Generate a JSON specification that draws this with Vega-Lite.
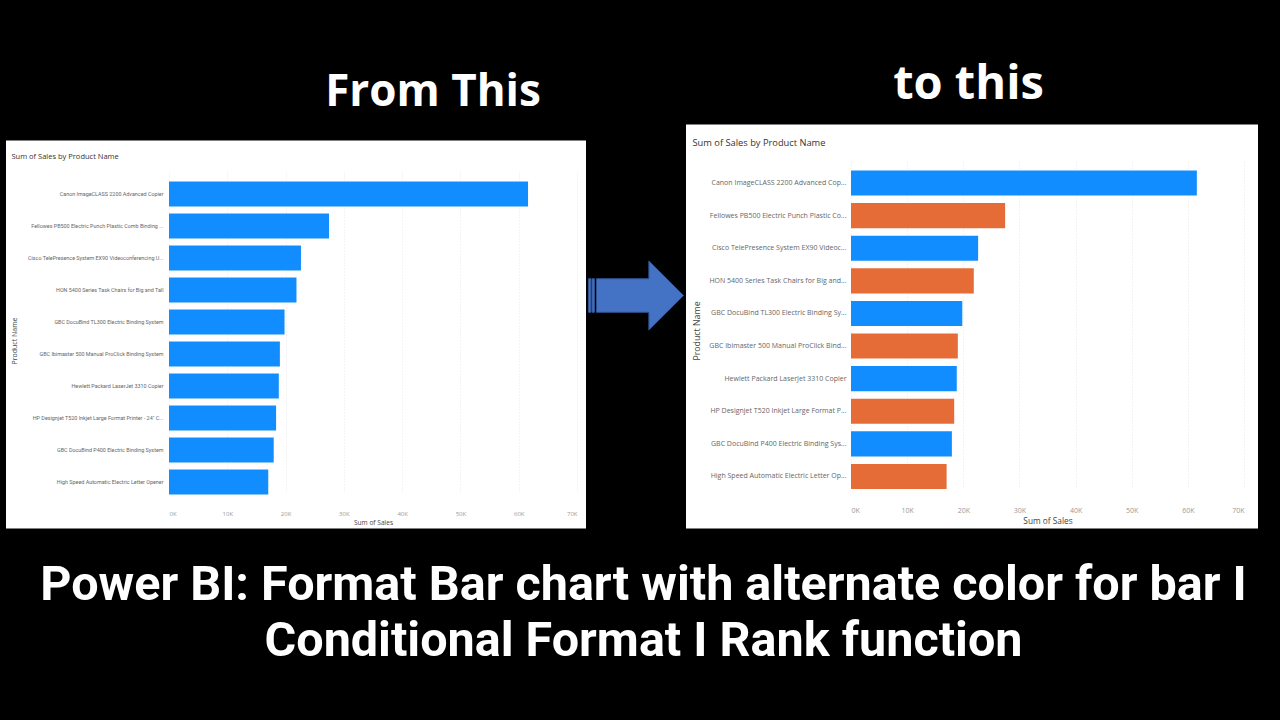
{
  "$schema": "https://vega.github.io/schema/vega-lite/v6.json",
  "background": "black",
  "padding": {"left": 6, "top": 60.5, "right": 23, "bottom": 56.5},
  "config": {
    "view": {"stroke": null},
    "axis": {"domain": false, "ticks": false, "titleFontWeight": "normal"},
    "font": "Open Sans"
  },
  "title": {
    "text": ["Power BI: Format Bar chart with alternate color for bar I", "Conditional Format I Rank function"],
    "orient": "bottom", "anchor": "middle", "dx": 11.5, "offset": 71, "baseline": "alphabetic",
    "font": "Roboto", "fontSize": 48.5, "fontWeight": "bold", "color": "white", "lineHeight": 56
  },
  "datasets": {
    "sales": [
      {"name_l": "Canon ImageCLASS 2200 Advanced Copier", "name_r": "Canon ImageCLASS 2200 Advanced Cop...", "sales": 61599.82, "rank_parity": "odd"},
      {"name_l": "Fellowes PB500 Electric Punch Plastic Comb Binding ...", "name_r": "Fellowes PB500 Electric Punch Plastic Co...", "sales": 27453.38, "rank_parity": "even"},
      {"name_l": "Cisco TelePresence System EX90 Videoconferencing U...", "name_r": "Cisco TelePresence System EX90 Videoc...", "sales": 22638.48, "rank_parity": "odd"},
      {"name_l": "HON 5400 Series Task Chairs for Big and Tall", "name_r": "HON 5400 Series Task Chairs for Big and...", "sales": 21870.58, "rank_parity": "even"},
      {"name_l": "GBC DocuBind TL300 Electric Binding System", "name_r": "GBC DocuBind TL300 Electric Binding Sy...", "sales": 19823.48, "rank_parity": "odd"},
      {"name_l": "GBC Ibimaster 500 Manual ProClick Binding System", "name_r": "GBC Ibimaster 500 Manual ProClick Bind...", "sales": 19024.5, "rank_parity": "even"},
      {"name_l": "Hewlett Packard LaserJet 3310 Copier", "name_r": "Hewlett Packard LaserJet 3310 Copier", "sales": 18839.69, "rank_parity": "odd"},
      {"name_l": "HP Designjet T520 Inkjet Large Format Printer - 24\" C...", "name_r": "HP Designjet T520 Inkjet Large Format P...", "sales": 18374.9, "rank_parity": "even"},
      {"name_l": "GBC DocuBind P400 Electric Binding System", "name_r": "GBC DocuBind P400 Electric Binding Sys...", "sales": 17965.07, "rank_parity": "odd"},
      {"name_l": "High Speed Automatic Electric Letter Opener", "name_r": "High Speed Automatic Electric Letter Op...", "sales": 17030.31, "rank_parity": "even"}
    ]
  },
  "spacing": 0,
  "hconcat": [
    {
      "vconcat": [
        {
          "width": 580, "height": 1,
          "view": {"fill": null, "stroke": null},
          "data": {"values": [{"k": 0}]},
          "mark": {"type": "text", "text": ""},
          "encoding": {}
        },
        {
          "title": {"text": "From This", "anchor": "middle", "frame": "group", "dx": 137, "offset": -9, "baseline": "alphabetic", "font": "Open Sans", "fontSize": 44, "fontWeight": "bold", "color": "white"},
          "width": 580, "height": 388,
          "view": {"fill": "white", "stroke": null},
          "data": {"name": "sales"},
          "resolve": {"axis": {"x": "independent", "y": "independent"}},
          "layer": [
            {
              "mark": {"type": "bar", "color": "#118DFF"},
              "encoding": {
                "y": {"field": "name_l", "type": "nominal", "sort": null,
                  "scale": {"range": [37.5, 357.5], "paddingInner": 0.22, "paddingOuter": 0.11},
                  "axis": {"title": "Product Name", "offset": -162, "labelPadding": 5, "labelFont": "Roboto", "labelFontSize": 5.4, "labelColor": "#666666", "labelLimit": 0,
                    "titleX": -154, "titleY": 200, "titleAngle": -90, "titleAlign": "center", "titleBaseline": "middle", "titleFont": "Open Sans", "titleFontSize": 7, "titleColor": "#444444"}},
                "x": {"field": "sales", "type": "quantitative",
                  "scale": {"domain": [0, 70000], "range": [163, 571], "nice": false},
                  "axis": {"orient": "bottom", "offset": -23, "values": [0, 10000, 20000, 30000, 40000, 50000, 60000, 70000], "labelExpr": "datum.value / 1000 + 'K'",
                    "labelPadding": 5, "labelFontSize": 6, "labelColor": "#999999", "grid": true, "gridColor": "#e8e8e8", "gridDash": [1, 2],
                    "title": "Sum of Sales", "titleY": 17, "titleBaseline": "middle", "titleFontSize": 6.6, "titleColor": "#444444"}}
              }
            },
            {
              "mark": {"type": "bar", "opacity": 0},
              "encoding": {
                "y": {"field": "name_l", "type": "nominal", "sort": null, "axis": null},
                "x": {"field": "sales", "type": "quantitative",
                  "axis": {"orient": "top", "labels": false, "grid": false, "values": [0],
                    "title": "Sum of Sales by Product Name", "titleX": 5, "titleY": 16, "titleAlign": "left", "titleBaseline": "middle", "titleAngle": 0, "titleFontSize": 7.5, "titleColor": "#333333"}}
              }
            }
          ]
        }
      ],
      "spacing": 15,
      "bounds": "flush"
    },
    {
      "width": 97, "height": 342,
      "view": {"fill": null, "stroke": null},
      "data": {"values": [{"px": 0.5, "py": 0.5}]},
      "mark": {"type": "point", "shape": "M-0.814,-0.35 L0.278,-0.35 L0.278,-0.72 L1,0 L0.278,0.72 L0.278,0.35 L-0.814,0.35 Z M-0.98,-0.35 L-0.928,-0.35 L-0.928,0.35 L-0.98,0.35 Z M-0.907,-0.35 L-0.856,-0.35 L-0.856,0.35 L-0.907,0.35 Z",
        "size": 9216, "filled": true, "fill": "#4472C4", "stroke": "#2F528F", "strokeWidth": 1, "opacity": 1},
      "encoding": {
        "x": {"field": "px", "type": "quantitative", "scale": {"domain": [0, 1]}, "axis": null},
        "y": {"field": "py", "type": "quantitative", "scale": {"domain": [0, 1]}, "axis": null}
      }
    },
    {
      "title": {"text": "to this", "anchor": "middle", "frame": "group", "dx": -3.5, "offset": -21, "baseline": "alphabetic", "font": "Open Sans", "fontSize": 47, "fontWeight": "bold", "color": "white"},
      "width": 572, "height": 404,
      "view": {"fill": "white", "stroke": null},
      "data": {"name": "sales"},
      "resolve": {"axis": {"x": "independent", "y": "independent"}},
      "layer": [
        {
          "mark": {"type": "bar"},
          "encoding": {
            "y": {"field": "name_r", "type": "nominal", "sort": null,
              "scale": {"range": [42.25, 368.25], "paddingInner": 0.23, "paddingOuter": 0.115},
              "axis": {"title": "Product Name", "offset": -165, "labelPadding": 5, "labelFont": "Open Sans", "labelFontSize": 7, "labelColor": "#666666", "labelLimit": 0,
                "titleX": -155, "titleY": 206, "titleAngle": -90, "titleAlign": "center", "titleBaseline": "middle", "titleFont": "Open Sans", "titleFontSize": 8.8, "titleColor": "#444444"}},
            "x": {"field": "sales", "type": "quantitative",
              "scale": {"domain": [0, 70000], "range": [165, 558], "nice": false},
              "axis": {"orient": "bottom", "offset": -26.5, "values": [0, 10000, 20000, 30000, 40000, 50000, 60000, 70000], "labelExpr": "datum.value / 1000 + 'K'",
                "labelPadding": 4, "labelFontSize": 7, "labelColor": "#999999", "grid": true, "gridColor": "#e8e8e8", "gridDash": [1, 2],
                "title": "Sum of Sales", "titleY": 19.5, "titleBaseline": "middle", "titleFontSize": 8.3, "titleColor": "#444444"}},
            "color": {"field": "rank_parity", "type": "nominal", "scale": {"domain": ["odd", "even"], "range": ["#118DFF", "#E66C37"]}, "legend": null}
          }
        },
        {
          "mark": {"type": "bar", "opacity": 0},
          "encoding": {
            "y": {"field": "name_r", "type": "nominal", "sort": null, "axis": null},
            "x": {"field": "sales", "type": "quantitative",
              "axis": {"orient": "top", "labels": false, "grid": false, "values": [0],
                "title": "Sum of Sales by Product Name", "titleX": 6, "titleY": 18, "titleAlign": "left", "titleBaseline": "middle", "titleAngle": 0, "titleFontSize": 9.3, "titleColor": "#333333"}}
          }
        }
      ]
    }
  ]
}
